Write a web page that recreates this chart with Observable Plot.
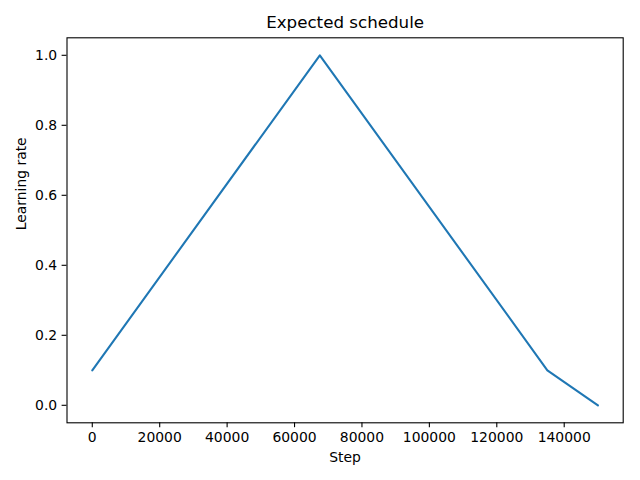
<!DOCTYPE html>
<html><head>
<meta charset="utf-8">
<script src="https://cdn.jsdelivr.net/npm/d3@7"></script>
<script src="https://cdn.jsdelivr.net/npm/@observablehq/plot@0.6"></script>
<style>body{margin:0;background:#fff;font-family:"DejaVu Sans",sans-serif;}</style>
</head><body><div id="chart"></div>
<script>
const steps = [0, 67500, 135000, 150000];
const rates = [0.1, 1.0, 0.1, 0.0];
const xTicks = [0, 20000, 40000, 60000, 80000, 100000, 120000, 140000];
const yTicks = [0.0, 0.2, 0.4, 0.6, 0.8, 1.0];
const title = "Expected schedule";
const xLabel = "Step";
const yLabel = "Learning rate";

const data = steps.map((s, i) => ({step: s, lr: rates[i]}));

const plot = Plot.plot({
  width: 640, height: 480,
  marginLeft: 66.5, marginRight: 17.3, marginTop: 37.3, marginBottom: 57.7,
  style: {fontFamily: "DejaVu Sans", fontSize: "13.9px", background: "white", color: "black"},
  x: {domain: [-7500, 157500]},
  y: {domain: [-0.05, 1.05]},
  marks: [
    Plot.axisX({ticks: xTicks, tickSize: 4.9, tickPadding: 4.9, tickFormat: d => String(d), label: null, stroke: "black", strokeWidth: 1.1, fill: "black"}),
    Plot.axisY({ticks: yTicks, tickSize: 4.9, tickPadding: 4.9, tickFormat: d => d.toFixed(1), label: null, stroke: "black", strokeWidth: 1.1, fill: "black"}),
    Plot.line(data, {x: "step", y: "lr", stroke: "#1f77b4", strokeWidth: 2.08}),
    Plot.frame({stroke: "black", strokeWidth: 1.1}),
    Plot.text([title], {frameAnchor: "top", lineAnchor: "bottom", dy: -9.5, fontSize: 16.7, fill: "black"}),
    Plot.text([xLabel], {frameAnchor: "bottom", lineAnchor: "middle", dy: 34.7, fontSize: 13.9, fill: "black"}),
    Plot.text([yLabel], {frameAnchor: "left", lineAnchor: "middle", rotate: -90, dx: -45.5, fontSize: 13.9, fill: "black"})
  ]
});
document.getElementById("chart").appendChild(plot);
</script>
</body></html>
